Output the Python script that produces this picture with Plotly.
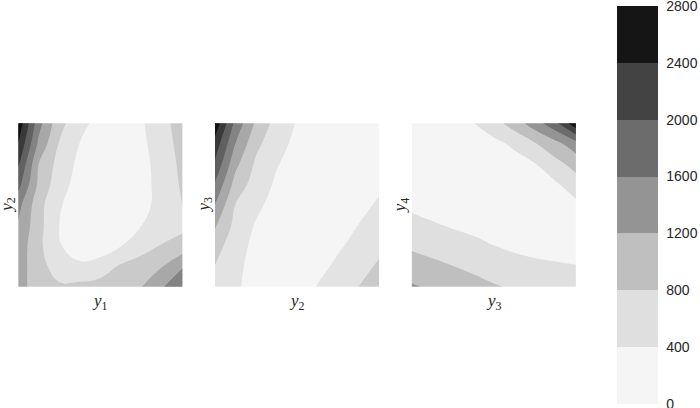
import plotly.graph_objects as go

# grid positions (fraction of each slice's range), shared by all panels
grid = [0.0, 0.125, 0.25, 0.375, 0.5, 0.625, 0.75, 0.875, 1.0]

# z values, rows from bottom (first) to top (last)
z_y1_y2 = [
    [1350, 1000, 860, 900, 950, 1050, 1190, 1580, 1780],
    [1390, 950, 604, 480, 600, 850, 1007, 1180, 1580],
    [1450, 890, 434, 170, 160, 390, 616, 830, 950],
    [1560, 933, 395, 165, 110, 183, 398, 560, 700],
    [1730, 939, 436, 202, 105, 132, 283, 537, 810],
    [2130, 1105, 554, 244, 122, 130, 267, 539, 855],
    [2450, 1195, 650, 302, 170, 162, 280, 557, 900],
    [2790, 1504, 769, 390, 231, 207, 318, 607, 950],
    [3090, 1746, 927, 520, 260, 253, 354, 662, 1000],
]
z_y2_y3 = [
    [720, 476, 208, 101, 178, 423, 612, 802, 990],
    [790, 506, 244, 113, 122, 269, 487, 669, 851],
    [960, 573, 290, 142, 101, 168, 342, 536, 714],
    [1250, 680, 364, 190, 107, 116, 217, 410, 590],
    [1590, 788, 485, 260, 138, 100, 145, 274, 460],
    [1950, 1040, 610, 341, 189, 111, 107, 177, 322],
    [2330, 1300, 727, 424, 244, 139, 100, 128, 220],
    [2650, 1590, 900, 538, 304, 179, 112, 104, 154],
    [3080, 1881, 1131, 648, 370, 223, 136, 101, 117],
]
z_y3_y4 = [
    [1240, 1150, 1047, 940, 834, 760, 690, 620, 560],
    [983, 890, 805, 708, 621, 540, 490, 460, 420],
    [739, 661, 583, 500, 405, 330, 267, 208, 157],
    [527, 443, 366, 296, 220, 170, 131, 103, 110],
    [320, 249, 200, 158, 121, 103, 103, 148, 310],
    [175, 134, 114, 102, 103, 126, 186, 343, 612],
    [106, 100, 106, 126, 166, 235, 380, 667, 943],
    [114, 147, 177, 231, 290, 476, 768, 1073, 1433],
    [200, 275, 327, 390, 650, 984, 1415, 1885, 2700],
]

x_labels = ["<i>y</i><sub>1</sub>", "<i>y</i><sub>2</sub>", "<i>y</i><sub>3</sub>"]
y_labels = ["<i>y</i><sub>2</sub>", "<i>y</i><sub>3</sub>", "<i>y</i><sub>4</sub>"]
colorbar_ticks = [0, 400, 800, 1200, 1600, 2000, 2400, 2800]
level_size = 400
level_top = [2800, 2800, 2400]   # last contour level of each panel

greys7 = ["#f5f5f5", "#dfdfdf", "#bfbfbf", "#949494", "#6c6c6c", "#434343", "#151515"]
greys8 = ["#f5f5f5", "#e3e3e3", "#cacaca", "#a8a8a8", "#838383", "#606060", "#393939", "#111111"]

W, H = 700, 408
panel_left_px = [18.3, 215.0, 411.7]
panel_w_px = 164.2
panel_top_px, panel_bot_px = 123.3, 286.7

def cscale(cols):
    n = len(cols)
    return [[k / (n - 1), c] for k, c in enumerate(cols)]

fig = go.Figure()
zs = [z_y1_y2, z_y2_y3, z_y3_y4]
pals = [greys8, greys8, greys7]
for i in range(3):
    sfx = "" if i == 0 else str(i + 1)
    show = i == 2
    tr = go.Contour(
        x=grid, y=grid, z=zs[i],
        xaxis="x" + sfx, yaxis="y" + sfx,
        colorscale=cscale(pals[i]),
        zmin=-1, zmax=level_top[i] + level_size + 1,
        contours=dict(start=level_size, end=level_top[i], size=level_size,
                      coloring="fill", showlines=False),
        line=dict(width=0, smoothing=1.3),
        showscale=show,
        hoverinfo="skip",
    )
    if show:
        tr.colorbar = dict(
            thickness=41, thicknessmode="pixels",
            len=398, lenmode="pixels",
            x=617.3 / W, xanchor="left", xpad=0,
            y=1 - 205 / H, yanchor="middle", ypad=0,
            outlinewidth=0,
            tickvals=colorbar_ticks,
            ticks="outside", ticklen=6, tickcolor="rgba(0,0,0,0)",
            ticklabeloverflow="allow",
            tickfont=dict(family="Liberation Sans, Arial, sans-serif", size=14, color="#262626"),
        )
    fig.add_trace(tr)

    x0 = panel_left_px[i] / W
    x1 = (panel_left_px[i] + panel_w_px) / W
    ax = dict(domain=[x0, x1], range=[0, 1], showticklabels=False, showgrid=False,
              zeroline=False, showline=False, ticks="")
    ay = dict(domain=[1 - panel_bot_px / H, 1 - panel_top_px / H], range=[0, 1],
              showticklabels=False, showgrid=False, zeroline=False, showline=False, ticks="")
    if i > 0:
        ax["anchor"] = "y" + sfx
        ay["anchor"] = "x" + sfx
    fig.layout["xaxis" + sfx] = ax
    fig.layout["yaxis" + sfx] = ay

    lab_font = dict(family="Liberation Serif, DejaVu Serif, serif", size=17, color="#262626")
    fig.add_annotation(text=x_labels[i], xref="paper", yref="paper",
                       x=(x0 + x1) / 2, y=1 - 302 / H, xanchor="center", yanchor="middle",
                       showarrow=False, font=lab_font)
    fig.add_annotation(text=y_labels[i], xref="paper", yref="paper",
                       x=(panel_left_px[i] - 10.5) / W, y=1 - 205 / H,
                       xanchor="center", yanchor="middle", textangle=-90,
                       showarrow=False, font=lab_font)

fig.update_layout(width=W, height=H, margin=dict(l=0, r=0, t=0, b=0),
                  paper_bgcolor="white", plot_bgcolor="white", showlegend=False)
fig.write_html("out.html", post_script="document.body.style.margin='0px';",
               config={"displayModeBar": False})
